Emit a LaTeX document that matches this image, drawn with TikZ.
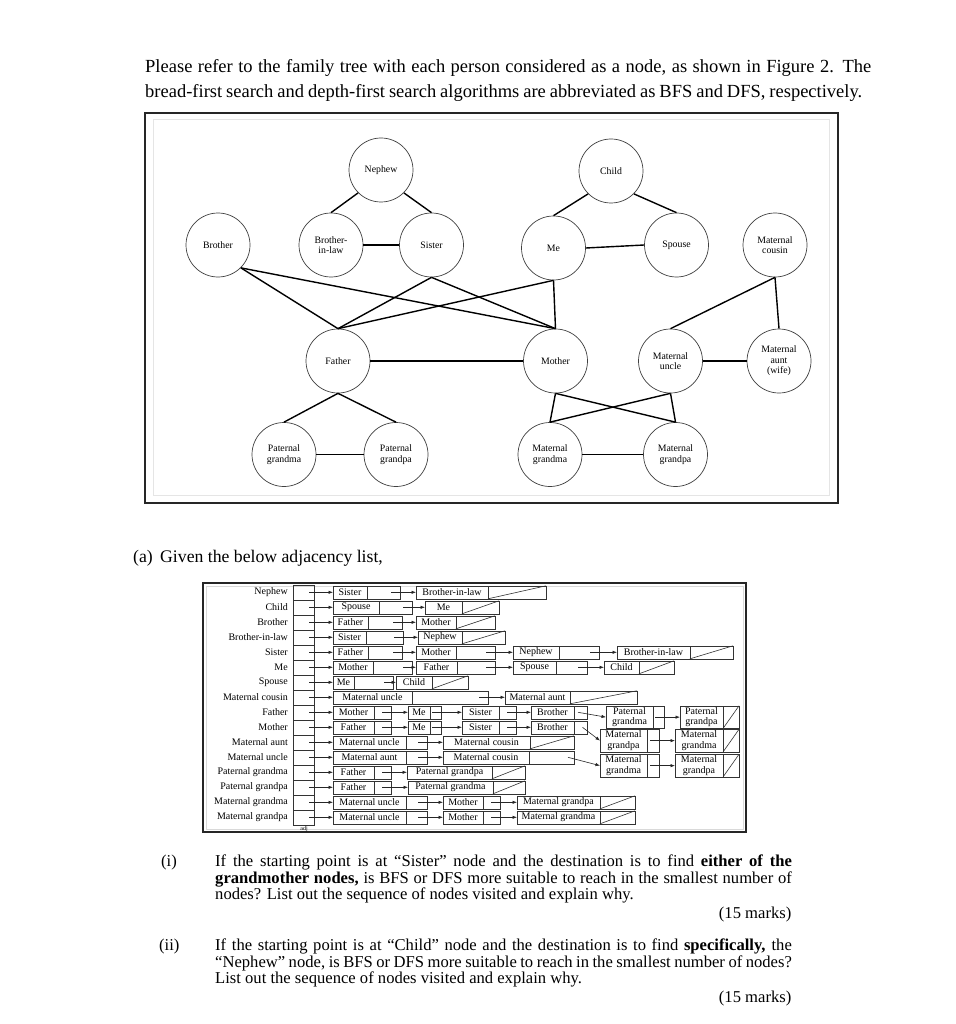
\documentclass[tikz,border=0pt]{standalone}
\usepackage{fontspec}
\setmainfont{Liberation Serif}
\usetikzlibrary{arrows.meta,calc}
\newcommand\lcell[6]{%
  \node[cellbox,minimum width=#3-#2] (#1) at (#2,#5) {#6};
  \node[cellbox,minimum width=#4-#3] (#1p) at (#3,#5) {};}
\newcommand\lcellt[6]{%
  \node[cellbox,anchor=north west,minimum height=22.7pt,minimum width=#3-#2,align=center] (#1) at (#2,#5) {#6};
  \node[cellbox,anchor=north west,minimum height=22.7pt,minimum width=#4-#3] (#1p) at (#3,#5) {};}
\newcommand\lnull[1]{\draw[cellline] (#1p.south west) -- (#1p.north east);}
\newcommand\lptr[2]{\draw[ptr] ([xshift=-9pt]#1p.east) -- (#2.west);}
\begin{document}
\begin{tikzpicture}[x=1pt,y=-1pt,
  person/.style={circle,draw=black!75,line width=0.7pt,minimum size=64pt,inner sep=0pt,align=center,font=\fontsize{9.8}{10.6}\selectfont},
  tie/.style={line width=1.4pt,black},
  cellbox/.style={draw=black!80,line width=0.6pt,minimum height=13pt,inner sep=0pt,outer sep=0pt,anchor=west,font=\fontsize{10}{10.4}\selectfont},
  cellline/.style={draw=black!80,line width=0.6pt},
  ptr/.style={line width=0.6pt,black!85,-{Latex[length=4.5pt,width=3.4pt]}},
  adjcell/.style={draw=black!80,line width=0.6pt,minimum width=21pt,minimum height=15pt,inner sep=0pt,outer sep=0pt},
  rowlbl/.style={anchor=east,inner sep=0pt,font=\fontsize{10}{10.4}\selectfont},
  toptext/.style={anchor=base west,inner sep=0pt,font=\fontsize{18.5}{22}\selectfont},
  qtext/.style={anchor=base west,inner sep=0pt,font=\fontsize{16.6}{17}\selectfont},
]
\useasboundingbox[fill=white] (0,0) rectangle (955,1024);

% ---------- heading ----------
\node[toptext] (t1) at (145,72.5) {\makebox[726pt][s]{Please refer to the family tree with each person considered as a node, as shown in Figure 2. The}};
\node[toptext] (t2) at (145,97.5) {\makebox[717pt][s]{bread-first search and depth-first search algorithms are abbreviated as BFS and DFS, respectively.}};

% ---------- family tree ----------
\draw[line width=1.6pt,black!85] (145,113) rectangle (838,503);
\draw[line width=0.8pt,black!10] (153,119) rectangle (829,495);

\node[person] (neph) at (381,170) {Nephew};
\node[person] (child) at (611,171) {Child};
\node[person] (bro) at (218,245) {Brother};
\node[person] (bil) at (331,245) {Brother-\\in-law};
\node[person] (sis) at (431.5,245) {Sister};
\node[person] (me) at (553.5,248) {Me};
\node[person] (sp) at (676.5,245) {Spouse};
\node[person] (mc) at (775,245) {Maternal\\cousin};
\node[person] (fa) at (338,361) {Father};
\node[person] (mo) at (555.5,361) {Mother};
\node[person] (mu) at (670.5,361) {Maternal\\uncle};
\node[person] (ma) at (779,361) {Maternal\\aunt\\(wife)};
\node[person] (pgm) at (284,454.5) {Paternal\\grandma};
\node[person] (pgp) at (396,454.5) {Paternal\\grandpa};
\node[person] (mgm) at (550,454.5) {Maternal\\grandma};
\node[person] (mgp) at (675.5,454.5) {Maternal\\grandpa};

\draw[tie] (neph.-135) -- (bil.north);
\draw[tie] (neph.-45) -- (sis.north);
\draw[tie] (bil.east) -- (sis.west);
\draw[tie] (child.-135) -- (me.north);
\draw[tie] (child.-45) -- (sp.north);
\draw[tie] (me.east) -- (sp.west);
\draw[tie] (bro.-45) -- (fa.north);
\draw[tie] (bro.-45) -- (mo.north);
\draw[tie] (sis.south) -- (fa.north);
\draw[tie] (sis.south) -- (mo.north);
\draw[tie] (me.south) -- (fa.north);
\draw[tie] (me.south) -- (mo.north);
\draw[tie] (mc.south) -- (mu.north);
\draw[tie] (mc.south) -- (ma.north);
\draw[tie] (fa.east) -- (mo.west);
\draw[tie] (mu.east) -- (ma.west);
\draw[tie] (fa.south) -- (pgm.north);
\draw[tie] (fa.south) -- (pgp.north);
\draw[tie] (pgm.east) -- (pgp.west);
\draw[tie] (mo.south) -- (mgm.north);
\draw[tie] (mo.south) -- (mgp.north);
\draw[tie] (mu.south) -- (mgm.north);
\draw[tie] (mu.south) -- (mgp.north);
\draw[tie] (mgm.east) -- (mgp.west);

% ---------- (a) ----------
\node[anchor=base west,inner sep=0pt,font=\fontsize{17.7}{20}\selectfont] (alab) at (133,562) {(a)};
\node[anchor=base west,inner sep=0pt,font=\fontsize{17.7}{20}\selectfont] (atext) at (160,562) {Given the below adjacency list,};

% ---------- adjacency list ----------
\draw[line width=1.4pt,black!85] (203,583) rectangle (746,832);
\draw[line width=0.6pt,black!15] (206,586) rectangle (743,829);

\foreach \lbl [count=\i] in {Nephew,Child,Brother,Brother-in-law,Sister,Me,Spouse,Maternal cousin,Father,Mother,Maternal aunt,Maternal uncle,Paternal grandma,Paternal grandpa,Maternal grandma,Maternal grandpa}{
  \node[adjcell] (adj\i) at (303.5,{592.3+15*(\i-1)}) {};
  \node[rowlbl] (lab\i) at (288,{592.3+15*(\i-1)}) {\lbl};
}
\node[inner sep=0pt,font=\fontsize{6}{6}\selectfont] (adjlbl) at (304,829) {adj};

% row 1
\lcell{ra1}{333}{367}{400}{592.3}{Sister}
\lcell{rb1}{416}{488}{546}{592.3}{Brother-in-law}\lnull{rb1}
\lptr{ra1}{rb1}
% row 2
\lcell{ra2}{333}{379}{412}{607.3}{Spouse}
\lcell{rb2}{425}{462}{499}{607.3}{Me}\lnull{rb2}
\lptr{ra2}{rb2}
% row 3
\lcell{ra3}{333}{368}{402}{622.3}{Father}
\lcell{rb3}{416}{456}{495}{622.3}{Mother}\lnull{rb3}
\lptr{ra3}{rb3}
% row 4
\lcell{ra4}{333}{366}{403}{637.3}{Sister}
\lcell{rb4}{418}{462}{505}{637.3}{Nephew}\lnull{rb4}
\lptr{ra4}{rb4}
% row 5
\lcell{ra5}{333}{368}{402}{652.3}{Father}
\lcell{rb5}{416}{456}{495}{652.3}{Mother}
\lcell{rc5}{513}{559}{599}{652.3}{Nephew}
\lcell{rd5}{617}{690}{733}{652.3}{Brother-in-law}\lnull{rd5}
\lptr{ra5}{rb5}\lptr{rb5}{rc5}\lptr{rc5}{rd5}
% row 6
\lcell{ra6}{333}{373}{412}{667.3}{Mother}
\lcell{rb6}{416}{457}{495}{667.3}{Father}
\lcell{rc6}{513}{556}{587}{667.3}{Spouse}
\lcell{rd6}{604}{639}{674}{667.3}{Child}\lnull{rd6}
\lptr{ra6}{rb6}\lptr{rb6}{rc6}\lptr{rc6}{rd6}
% row 7
\lcell{ra7}{333}{354}{393}{682.3}{Me}
\lcell{rb7}{396}{432}{468}{682.3}{Child}\lnull{rb7}
\lptr{ra7}{rb7}
% row 8
\lcell{ra8}{333}{412}{488}{697.3}{Maternal uncle}
\lcell{rb8}{505}{570}{637}{697.3}{Maternal aunt}\lnull{rb8}
\lptr{ra8}{rb8}
% row 9
\lcell{ra9}{333}{374}{391}{712.3}{Mother}
\lcell{rb9}{408}{430}{441}{712.3}{Me}
\lcell{rc9}{462}{499}{516}{712.3}{Sister}
\lcell{rd9}{531}{574}{587}{712.3}{Brother}
\lcellt{re9}{606}{653}{664}{705.8}{Paternal\\grandma}
\lcellt{rf9}{680}{723}{739}{705.8}{Paternal\\grandpa}\lnull{rf9}
\lptr{ra9}{rb9}\lptr{rb9}{rc9}\lptr{rc9}{rd9}\lptr{rd9}{re9}\lptr{re9}{rf9}
% row 10
\lcell{ra10}{333}{374}{391}{727.3}{Father}
\lcell{rb10}{408}{430}{441}{727.3}{Me}
\lcell{rc10}{462}{499}{516}{727.3}{Sister}
\lcell{rd10}{531}{574}{587}{727.3}{Brother}
\lcellt{re10}{600}{647}{659}{729.3}{Maternal\\grandpa}
\lcellt{rf10}{675}{723}{739}{729.3}{Maternal\\grandma}\lnull{rf10}
\lptr{ra10}{rb10}\lptr{rb10}{rc10}\lptr{rc10}{rd10}\lptr{re10}{rf10}
\draw[ptr] ([xshift=2pt]rd10p.center) -- (re10.west);
% row 11
\lcell{ra11}{333}{406}{427}{742.3}{Maternal uncle}
\lcell{rb11}{443}{530}{574}{742.3}{Maternal cousin}\lnull{rb11}
\lptr{ra11}{rb11}
% row 12
\lcell{ra12}{333}{406}{427}{757.3}{Maternal aunt}
\lcell{rb12}{443}{529}{574}{757.3}{Maternal cousin}
\lcellt{rc12}{600}{647}{659}{754.3}{Maternal\\grandma}
\lcellt{rd12}{675}{723}{739}{754.3}{Maternal\\grandpa}\lnull{rd12}
\lptr{ra12}{rb12}\lptr{rc12}{rd12}
\draw[ptr] ([xshift=-6pt]rb12p.east) -- (rc12.west);
% row 13
\lcell{ra13}{333}{374}{391}{772.3}{Father}
\lcell{rb13}{407}{492}{525}{772.3}{Paternal grandpa}\lnull{rb13}
\lptr{ra13}{rb13}
% row 14
\lcell{ra14}{333}{374}{391}{787.3}{Father}
\lcell{rb14}{408}{493}{525}{787.3}{Paternal grandma}\lnull{rb14}
\lptr{ra14}{rb14}
% row 15
\lcell{ra15}{333}{406}{427}{802.3}{Maternal uncle}
\lcell{rb15}{443}{483}{500}{802.3}{Mother}
\lcell{rc15}{517}{600}{635}{802.3}{Maternal grandpa}\lnull{rc15}
\lptr{ra15}{rb15}\lptr{rb15}{rc15}
% row 16
\lcell{ra16}{333}{406}{427}{817.3}{Maternal uncle}
\lcell{rb16}{443}{483}{500}{817.3}{Mother}
\lcell{rc16}{517}{600}{635}{817.3}{Maternal grandma}\lnull{rc16}
\lptr{ra16}{rb16}\lptr{rb16}{rc16}

\foreach \i in {1,...,16}{\draw[ptr] ([xshift=-5pt]adj\i.east) -- (ra\i.west);}

% ---------- questions ----------
\node[qtext] (q1n) at (161,866.5) {(i)};
\node[qtext] (q1a) at (215,866.5) {\makebox[576.7pt][s]{If the starting point is at “Sister” node and the destination is to find \textbf{either of the}}};
\node[qtext] (q1b) at (215,883) {\makebox[576.7pt][s]{\textbf{grandmother nodes,} is BFS or DFS more suitable to reach in the smallest number of}};
\node[qtext] (q1c) at (215,899.5) {nodes? List out the sequence of nodes visited and explain why.};
\node[qtext,anchor=base east] (q1m) at (791.5,918) {(15 marks)};

\node[qtext] (q2n) at (159,950.5) {(ii)};
\node[qtext] (q2a) at (215,950.5) {\makebox[576.7pt][s]{If the starting point is at “Child” node and the destination is to find \textbf{specifically,} the}};
\node[qtext] (q2b) at (215,967) {\makebox[576.7pt][s]{“Nephew” node, is BFS or DFS more suitable to reach in the smallest number of nodes?}};
\node[qtext] (q2c) at (215,983.5) {List out the sequence of nodes visited and explain why.};
\node[qtext,anchor=base east] (q2m) at (791.5,1002) {(15 marks)};
\end{tikzpicture}
\end{document}
